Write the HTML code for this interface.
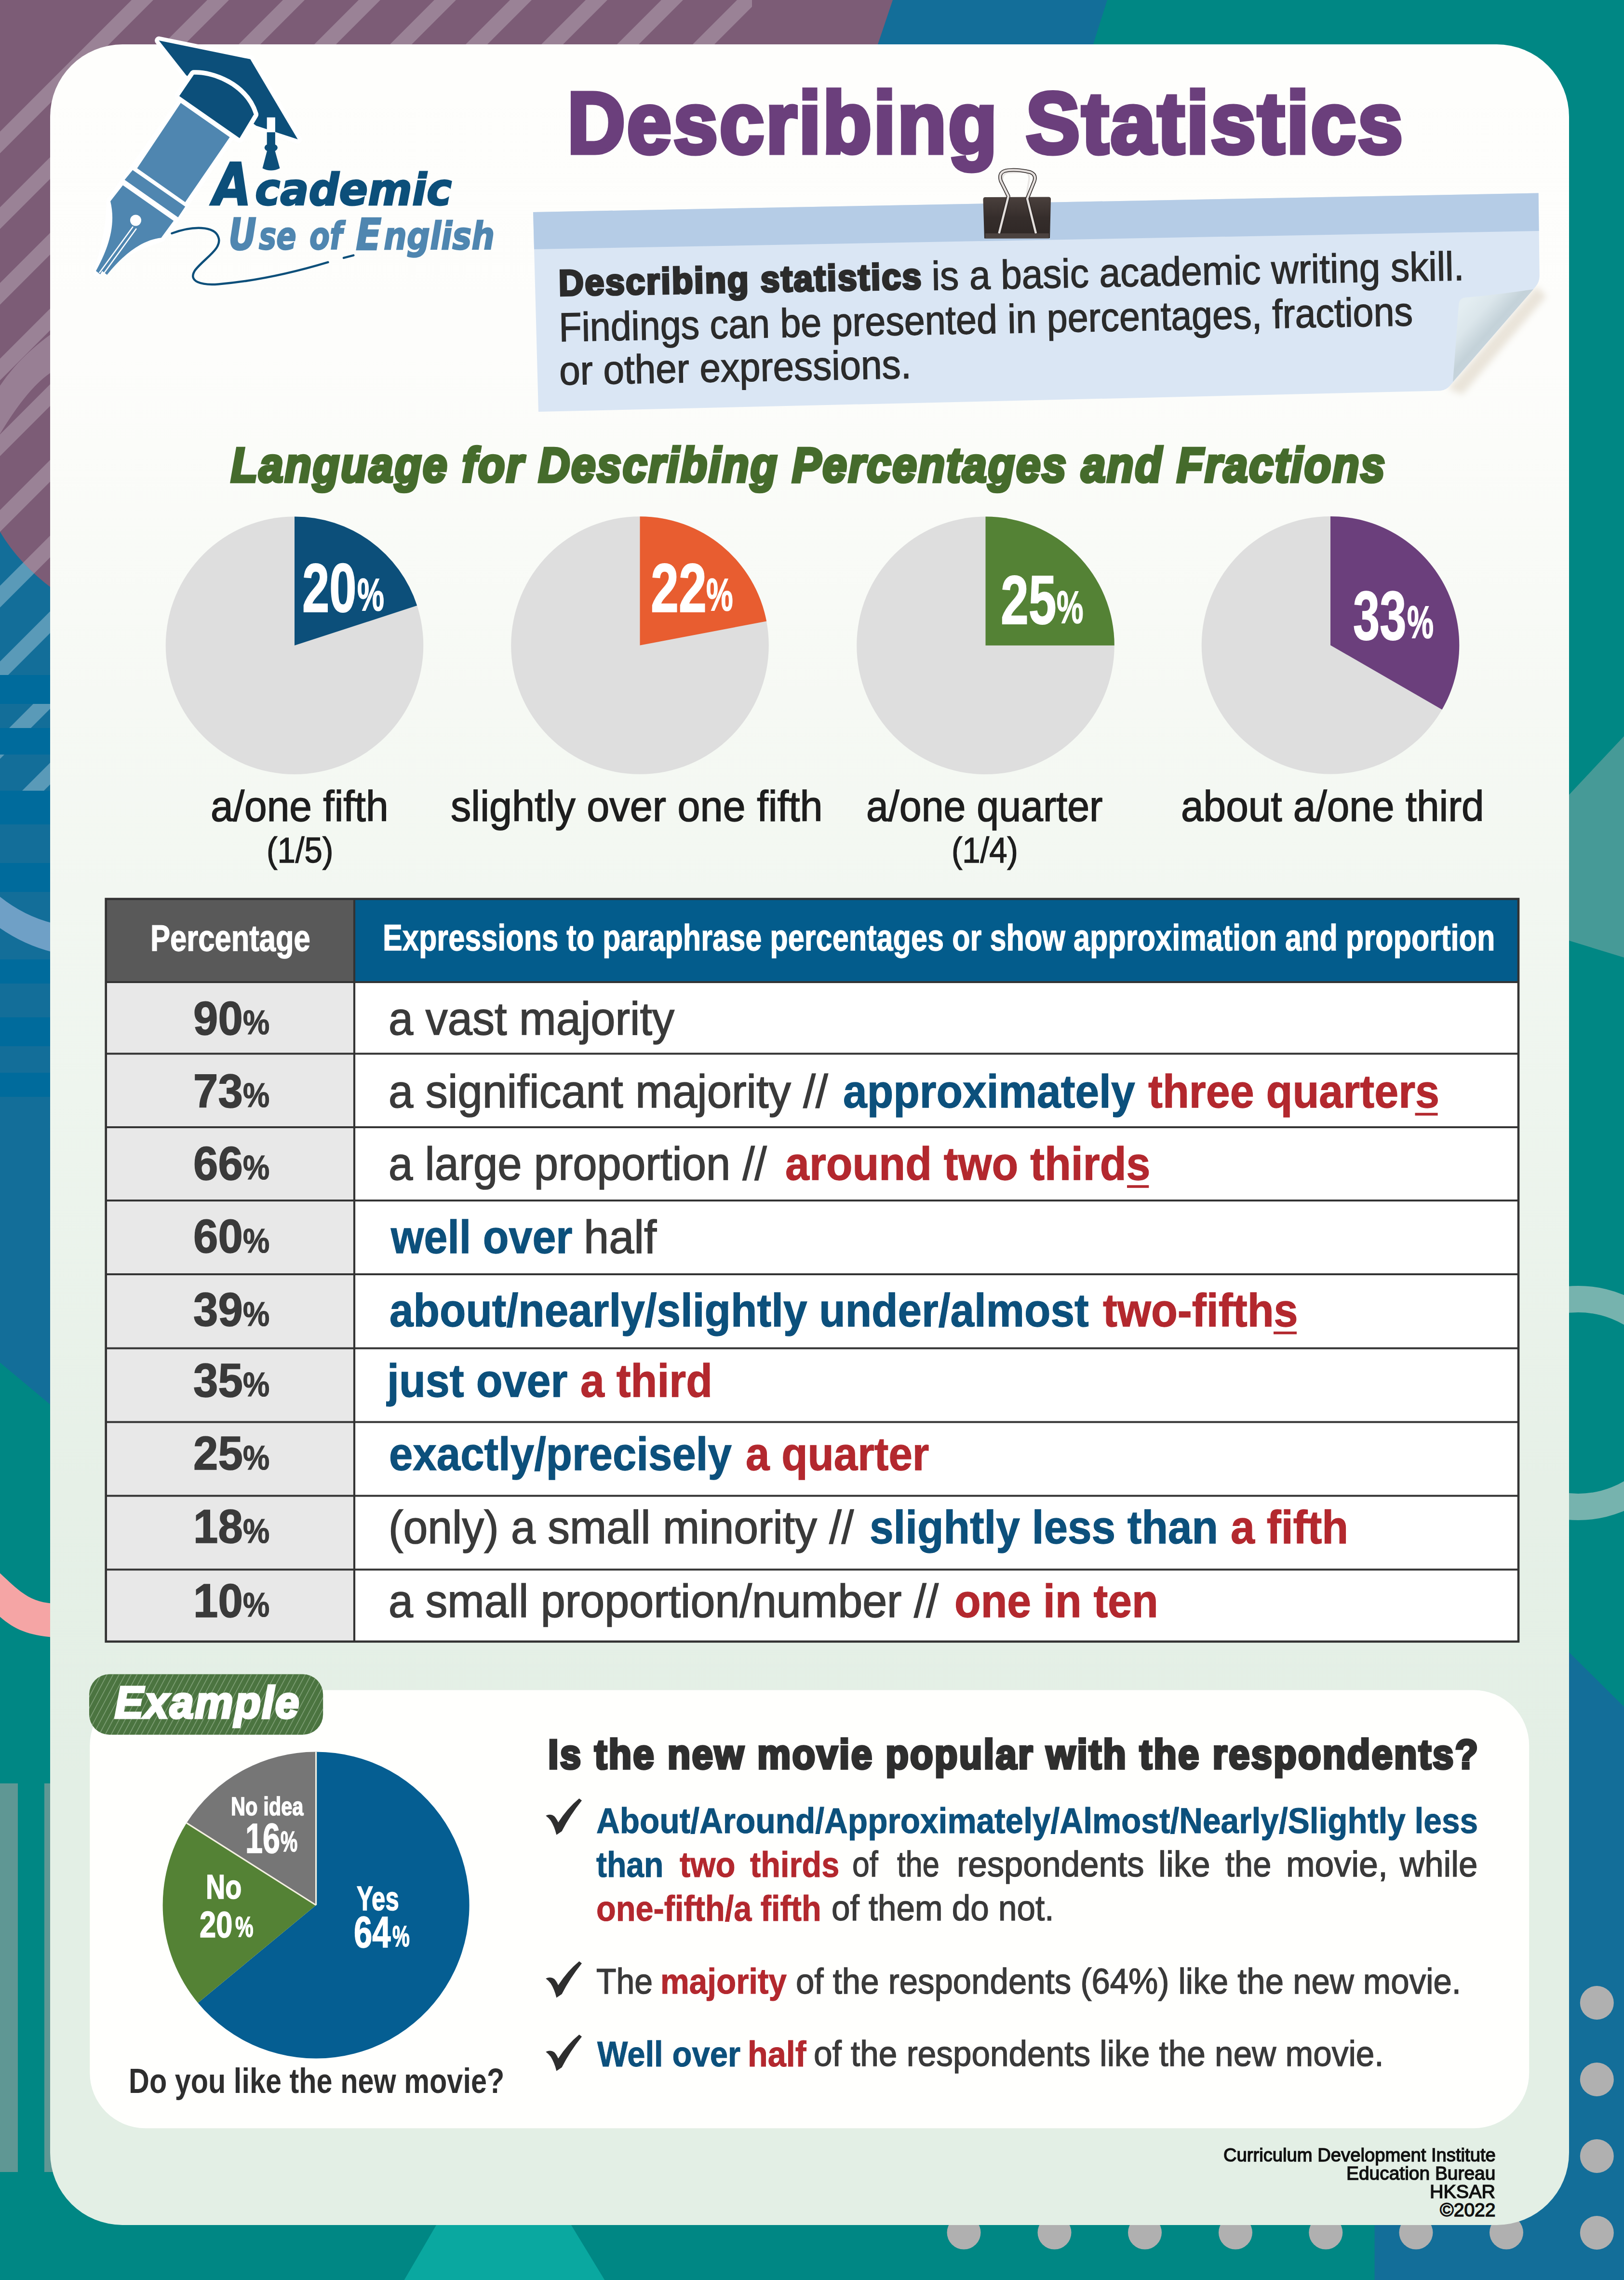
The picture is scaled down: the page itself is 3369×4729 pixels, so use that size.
<!DOCTYPE html>
<html lang="en"><head><meta charset="utf-8"><title>Describing Statistics</title>
<style>
html,body{margin:0;padding:0}
body{width:3369px;height:4729px;position:relative;overflow:hidden;background:#008784;font-family:"Liberation Sans",sans-serif}
svg{position:absolute;left:0;top:0}
.card{position:absolute;left:104px;top:92px;width:3151px;height:4523px;border-radius:150px;
 background:linear-gradient(180deg,#fefefc 0%,#fdfdfb 14%,#f6f9f4 30%,#eef5ee 48%,#e6f0e7 66%,#e3efe5 80%,#e3efe5 100%)}
.t{position:absolute;white-space:pre;line-height:1;transform-origin:0 0;letter-spacing:0}
#note{position:absolute;left:0;top:0;width:3369px;height:4729px;transform-origin:1106px 440px;transform:rotate(-1.07deg)}
</style></head><body>
<svg width="3369" height="4729" viewBox="0 0 3369 4729">
<defs>
<pattern id="stp" width="157" height="157" patternUnits="userSpaceOnUse"><path d="M116,0 L157,0 L157,4 L4,157 L0,157 L0,116 Z M157,116 L157,157 L116,157 Z M0,0 L4,0 L0,4 Z" fill="#fff" fill-opacity=".23"/></pattern>
<pattern id="stp2" width="157" height="157" patternUnits="userSpaceOnUse"><path d="M116,0 L157,0 L157,4 L4,157 L0,157 L0,116 Z M157,116 L157,157 L116,157 Z M0,0 L4,0 L0,4 Z" fill="#fff" fill-opacity=".3"/></pattern>
<clipPath id="cpurple"><path d="M0,230 L230,0 L1560,0 L1560,110 L320,110 L320,320 L110,320 L110,1222 Q40,1170 0,1103 Z"/></clipPath>
<clipPath id="cblue"><path d="M0,1103 Q40,1170 110,1222 L110,1640 L0,1640 Z"/></clipPath>
</defs>
<rect width="3369" height="4729" fill="#008784"/>
<!-- blue band -->
<path d="M1852,0 L2297,0 L2262,110 L110,2918 L0,2826 L0,0 Z" fill="#136e99"/>
<!-- purple -->
<path d="M0,0 L1852,0 L1815,110 L320,110 L320,320 L110,320 L110,1222 Q40,1170 0,1103 Z" fill="#7c5c76"/>
<g clip-path="url(#cpurple)"><rect width="1700" height="1300" fill="url(#stp)"/>
<path d="M0,900 Q60,800 110,770 L110,690 Q40,740 0,800 Z" fill="#fff" fill-opacity=".22"/></g>
<g clip-path="url(#cblue)"><rect width="1700" height="1700" fill="url(#stp2)"/></g>
<!-- subtle horizontal bands in blue -->
<g fill="#006b9c"><rect x="0" y="1400" width="110" height="60"/><rect x="0" y="1510" width="110" height="55"/><rect x="0" y="1640" width="110" height="70"/><rect x="0" y="1790" width="110" height="60"/><rect x="0" y="1990" width="110" height="50"/><rect x="0" y="2110" width="110" height="60"/><rect x="0" y="2225" width="110" height="50"/></g>
<path d="M0,1860 Q50,1900 110,1915 L110,1975 Q50,1960 0,1925 Z" fill="#6fa0c6"/>
<!-- pink -->
<path d="M0,3263 C40,3300 60,3322 110,3326 L110,3396 C60,3392 30,3380 0,3353.6 Z" fill="#f5a5a5"/>
<!-- grey-teal bars -->
<rect x="0" y="3699" width="37" height="806" fill="#5f9794"/><rect x="92" y="3699" width="30" height="806" fill="#5f9794"/>
<!-- right strip -->
<path d="M3200,1707 L3369,1527 L3369,1986 L3200,1934 Z" fill="#469a97"/>
<circle cx="3274" cy="2910" r="215.5" fill="none" stroke="#76b3ae" stroke-width="55"/>
<path d="M2851.6,4729 L2851.6,3426 L3254,3426 L3369,3540 L3369,4729 Z" fill="#136e99"/>
<!-- bottom triangle -->
<path d="M1042,4380 L838.6,4729 L1254.3,4729 Z" fill="#0aa8a0"/>
<!-- dots -->
<g fill="#b0b0b0"><circle cx="3312.8" cy="4154" r="35"/><circle cx="3312.8" cy="4313" r="35"/><circle cx="3312.8" cy="4472" r="35"/><circle cx="3312.8" cy="4631" r="35"/>
<circle cx="1999.5" cy="4630.6" r="35"/><circle cx="2187.5" cy="4630.6" r="35"/><circle cx="2375" cy="4630.6" r="35"/><circle cx="2563" cy="4630.6" r="35"/><circle cx="2750.3" cy="4630.6" r="35"/><circle cx="2937.5" cy="4630.6" r="35"/><circle cx="3125" cy="4630.6" r="35"/></g>
</svg>

<div class="card"></div>
<svg width="3369" height="4729" viewBox="0 0 3369 4729">
<defs>
<linearGradient id="flap" gradientUnits="userSpaceOnUse" x1="3030" y1="640" x2="3120" y2="720"><stop offset="0" stop-color="#e3edf1"/><stop offset=".3" stop-color="#dbe6eb"/><stop offset=".62" stop-color="#c4d2d9"/><stop offset="1" stop-color="#c9d6df"/></linearGradient>
<linearGradient id="clipg" x1="0" y1="0" x2="0" y2="1"><stop offset="0" stop-color="#4a403d"/><stop offset=".5" stop-color="#352d2b"/><stop offset="1" stop-color="#2e2725"/></linearGradient>
<filter id="blur8" x="-20%" y="-20%" width="140%" height="140%"><feGaussianBlur stdDeviation="7"/></filter>
<pattern id="exst" width="11" height="11" patternUnits="userSpaceOnUse" patternTransform="rotate(28)"><rect x="0" y="0" width="1.3" height="11" fill="#8dab85"/></pattern>
</defs>
<!-- logo -->
<g stroke-linejoin="round">
<g fill="#fff" stroke="#fff" stroke-width="17">
<path d="M329.6,84.1 L519.2,122.8 L617.7,289.1 L531.5,260.7 L386.2,156 Z"/>
<path d="M402.2,154.8 Q470,150 526.6,237.3 L497,286.6 L371.9,199.2 Z"/>
<path d="M375,213.5 L476.6,284.5 L360.2,458.1 L334.4,493.2 Q250,520 202.5,565.3 Q230,480 229,417.5 Z"/>
</g>
<!-- pen -->
<path d="M375,213.5 L476.6,284.5 L384.2,419.3 L284.5,349.1 Z" fill="#4f86b0"/>
<path d="M275.2,352.8 L384.2,428.6 L369.4,450.7 L258.6,373.1 Z" fill="#4f86b0"/>
<path d="M254.9,384.2 L360.2,458.1 L334.4,493.2 C300,497 262,520 222,570 L212,562 L208,569 L199,562 C222,520 242,470 229,417.5 Z" fill="#4f86b0"/>
<path d="M276,470 L206,566 M283,474 L214,569" stroke="#fff" stroke-width="2.6" fill="none"/>
<circle cx="281.5" cy="457" r="11.5" fill="#fff"/>
<!-- cap -->
<path d="M329.6,84.1 L519.2,122.8 L617.7,289.1 L531.5,260.7 L386.2,156 Z" fill="#0c4f7a"/>
<path d="M402.2,154.8 C440,153 508,178 526.6,237.3 L497,286.6 L371.9,199.2 Z" fill="#0c4f7a" stroke="#fff" stroke-width="19" paint-order="stroke"/>
<rect x="553.7" y="243.5" width="17.2" height="32" fill="#fff"/>
<rect x="553.7" y="274.3" width="17.2" height="30" fill="#0c4f7a"/>
<ellipse cx="562.3" cy="306.3" rx="13.5" ry="8.6" fill="#0c4f7a"/>
<path d="M554.5,311 L570,311 L580.5,349 Q562,358 544.5,349 Z" fill="#0c4f7a"/>
<!-- squiggle -->
<path d="M356.5,484 C400,468 445,468 453,492 C462,515 425,535 405,560 C388,585 420,592 452.8,589.4 C520,584 600,568 680.4,543.9 M713,534.9 L733.3,529.6" fill="none" stroke="#0c4f7a" stroke-width="4.5" stroke-linecap="round"/>
</g>
<!-- note -->
<path d="M3187,594 L3004,806 L3034,818 L3208,614 Z" fill="#cdbfa8" opacity=".4" filter="url(#blur8)"/>
<path d="M1106,440 L3191.6,400.5 L3193.7,571 Q3194,584 3186,594 L3008,800 Q3000,809 2988,810.6 L1117,854 Z" fill="#dae6f4"/>
<path d="M1106,440 L3191.6,400.5 L3192.6,479 L1108,517 Z" fill="#b5cce6"/>
<path d="M3181,600 Q3100,612 3040,617 Q3026,619 3026,634 L3014,792 Z" fill="url(#flap)"/>
<!-- binder clip -->
<path d="M2088,415 L2080,375 Q2078,360 2092,358 L2125,357 Q2136,358 2135,372 L2128,415" fill="none" stroke="#e9e6e4" stroke-width="3.5"/>
<path d="M2043,409 L2176,408.5 Q2180,409 2180,413 L2178,494 L2042,494.5 L2039.5,414 Q2039.5,409.5 2043,409 Z" fill="url(#clipg)"/>
<rect x="2044" y="484" width="132" height="10.5" fill="#4b423f"/>
<path d="M2072.5,484 L2092,407 L2076,375 Q2071,358 2086,354 Q2107,350 2137,357 Q2150,362 2146,375 L2131,412 L2149,484" fill="none" stroke="#2a2422" stroke-width="7.5" stroke-linejoin="round"/>
<path d="M2072.5,484 L2092,407 L2076,375 Q2071,358 2086,354 Q2107,350 2137,357 Q2150,362 2146,375 L2131,412 L2149,484" fill="none" stroke="#e3dedc" stroke-width="4.5" stroke-linejoin="round"/>
<!-- pies -->
<circle cx="611" cy="1338.7" r="267.3" fill="#dedede"/>
<path d="M611.0,1338.7 L611.0,1071.4 A267.3,267.3 0 0 1 865.2,1256.1 Z" fill="#0c4f7a"/>
<circle cx="1327.5" cy="1338.5" r="267.3" fill="#dedede"/>
<path d="M1327.5,1338.5 L1327.5,1071.2 A267.3,267.3 0 0 1 1590.1,1288.4 Z" fill="#e85d30"/>
<circle cx="2044.5" cy="1338.8" r="267.3" fill="#dedede"/>
<path d="M2044.5,1338.8 L2044.5,1071.5 A267.3,267.3 0 0 1 2311.8,1338.8 Z" fill="#548235"/>
<circle cx="2760" cy="1338.2" r="267.3" fill="#dedede"/>
<path d="M2760.0,1338.2 L2760.0,1070.9 A267.3,267.3 0 0 1 2991.5,1471.8 Z" fill="#6b3f7c"/>
<!-- table -->
<rect x="219.7" y="1864.5" width="515.3" height="172.5" fill="#595959"/>
<rect x="735" y="1864.5" width="2415" height="172.5" fill="#035c8c"/>
<rect x="219.7" y="2037" width="515.3" height="1367.8000000000002" fill="#e8e8e8"/>
<rect x="735" y="2037" width="2415" height="1367.8000000000002" fill="#ffffff"/>
<path d="M219.7,2037 H3150 M219.7,2185.5 H3150 M219.7,2338 H3150 M219.7,2490 H3150 M219.7,2643 H3150 M219.7,2796.5 H3150 M219.7,2949.5 H3150 M219.7,3102.5 H3150 M219.7,3255.5 H3150 M735,1864.5 V3404.8" stroke="#333" stroke-width="4.2" fill="none"/>
<rect x="219.7" y="1864.5" width="2930.3" height="1540.3000000000002" fill="none" stroke="#333" stroke-width="4.6"/>
<rect x="2935.5" y="2308.2000000000003" width="47.09999999999991" height="5.6" fill="#b3282e"/>
<rect x="2338" y="2458.2000000000003" width="45.30000000000018" height="5.6" fill="#b3282e"/>
<rect x="2642" y="2761.8" width="48" height="5.6" fill="#b3282e"/>
<!-- example -->
<rect x="186.3" y="3505.5" width="2985.9" height="908.7" rx="115" ry="115" fill="#fffffd"/>
<rect x="185" y="3472.5" width="485.2" height="125.5" rx="42" ry="42" fill="#4b7440"/>
<rect x="185" y="3472.5" width="485.2" height="125.5" rx="42" ry="42" fill="url(#exst)"/>
<path d="M655.6,3951.5 L655.6,3633.5 A318,318 0 1 1 410.6,4154.2 Z" fill="#055e92"/>
<path d="M655.6,3951.5 L410.6,4154.2 A318,318 0 0 1 387.1,3781.1 Z" fill="#548235"/>
<path d="M655.6,3951.5 L387.1,3781.1 A318,318 0 0 1 655.6,3633.5 Z" fill="#767676"/>
<path d="M655.6,3951.5 L655.6,3633.5 M655.6,3951.5 L387.1,3781.1" stroke="#f4f0e2" stroke-width="3.2" fill="none"/>
<path transform="translate(1132.2,3730.3)" d="M0,35.7 Q10,31 17.6,36.6 Q22,41 25.9,49.5 Q45,20 69.3,0 L74.8,4.2 Q50,35 33.3,68 L22.2,75.4 Q18,58 10.2,45.8 Q6,40 0,35.7 Z" fill="#2e2e2e"/>
<path transform="translate(1132.2,4068)" d="M0,35.7 Q10,31 17.6,36.6 Q22,41 25.9,49.5 Q45,20 69.3,0 L74.8,4.2 Q50,35 33.3,68 L22.2,75.4 Q18,58 10.2,45.8 Q6,40 0,35.7 Z" fill="#2e2e2e"/>
<path transform="translate(1132.2,4220)" d="M0,35.7 Q10,31 17.6,36.6 Q22,41 25.9,49.5 Q45,20 69.3,0 L74.8,4.2 Q50,35 33.3,68 L22.2,75.4 Q18,58 10.2,45.8 Q6,40 0,35.7 Z" fill="#2e2e2e"/>
</svg>
<div id="note">


<span class="t" style="left:1156.1px;top:551.3px;font-size:75.5px;color:#2b2b2b;transform:scaleX(0.9548);font-weight:700;-webkit-text-stroke:4.5px #2b2b2b;letter-spacing:2.5px;">Describing statistics</span>
<span class="t" style="left:1929.9px;top:545.6px;font-size:84px;color:#2b2b2b;transform:scaleX(0.9317);-webkit-text-stroke:1.5px #2b2b2b;">is a basic academic writing skill.</span>
<span class="t" style="left:1154.7px;top:637.9px;font-size:84px;color:#2b2b2b;transform:scaleX(0.9187);-webkit-text-stroke:1.5px #2b2b2b;">Findings can be presented in percentages, fractions</span>
<span class="t" style="left:1154.2px;top:727.6px;font-size:84px;color:#2b2b2b;transform:scaleX(0.9311);-webkit-text-stroke:1.5px #2b2b2b;">or other expressions.</span>
</div>
<span class="t" style="left:1177.1px;top:165.1px;font-size:180px;color:#6b3f7c;transform:scaleX(0.9225);font-weight:700;-webkit-text-stroke:9px #6b3f7c;letter-spacing:4px;">Describing</span>
<span class="t" style="left:2128.3px;top:165.1px;font-size:180px;color:#6b3f7c;transform:scaleX(0.9352);font-weight:700;-webkit-text-stroke:9px #6b3f7c;letter-spacing:4px;">Statistics</span>
<span class="t" style="left:479.0px;top:913.7px;font-size:100px;color:#456b2c;transform:scaleX(0.9027);font-weight:700;font-style:italic;-webkit-text-stroke:6.5px #456b2c;letter-spacing:3.5px;">Language for Describing Percentages and Fractions</span>
<span class="t" style="left:626.9px;top:1147.8px;font-size:143.5px;color:#ffffff;transform:scaleX(0.7048);font-weight:700;-webkit-text-stroke:2px #ffffff;">20</span>
<span class="t" style="left:741.2px;top:1186.3px;font-size:95px;color:#ffffff;transform:scaleX(0.6626);font-weight:700;-webkit-text-stroke:1.5px #ffffff;">%</span>
<span class="t" style="left:1349.5px;top:1147.8px;font-size:143.5px;color:#ffffff;transform:scaleX(0.7257);font-weight:700;-webkit-text-stroke:2px #ffffff;">22</span>
<span class="t" style="left:1464.7px;top:1186.3px;font-size:95px;color:#ffffff;transform:scaleX(0.6589);font-weight:700;-webkit-text-stroke:1.5px #ffffff;">%</span>
<span class="t" style="left:2076.4px;top:1173.0px;font-size:143.5px;color:#ffffff;transform:scaleX(0.7243);font-weight:700;-webkit-text-stroke:2px #ffffff;">25</span>
<span class="t" style="left:2191.6px;top:1211.8px;font-size:95px;color:#ffffff;transform:scaleX(0.6577);font-weight:700;-webkit-text-stroke:1.5px #ffffff;">%</span>
<span class="t" style="left:2806.8px;top:1205.0px;font-size:143.5px;color:#ffffff;transform:scaleX(0.6918);font-weight:700;-webkit-text-stroke:2px #ffffff;">33</span>
<span class="t" style="left:2919.2px;top:1243.1px;font-size:95px;color:#ffffff;transform:scaleX(0.6528);font-weight:700;-webkit-text-stroke:1.5px #ffffff;">%</span>
<span class="t" style="left:437.0px;top:1627.8px;font-size:89px;color:#1e1e1e;transform:scaleX(0.9430);-webkit-text-stroke:1.6px #1e1e1e;">a/one fifth</span>
<span class="t" style="left:552.5px;top:1725.8px;font-size:75px;color:#1e1e1e;transform:scaleX(0.8968);-webkit-text-stroke:1.4px #1e1e1e;">(1/5)</span>
<span class="t" style="left:935.2px;top:1627.7px;font-size:89px;color:#1e1e1e;transform:scaleX(0.9511);-webkit-text-stroke:1.6px #1e1e1e;">slightly over one fifth</span>
<span class="t" style="left:1796.7px;top:1627.7px;font-size:89px;color:#1e1e1e;transform:scaleX(0.9266);-webkit-text-stroke:1.6px #1e1e1e;">a/one quarter</span>
<span class="t" style="left:1974.0px;top:1725.8px;font-size:75px;color:#1e1e1e;transform:scaleX(0.8941);-webkit-text-stroke:1.4px #1e1e1e;">(1/4)</span>
<span class="t" style="left:2449.6px;top:1627.7px;font-size:89px;color:#1e1e1e;transform:scaleX(0.9411);-webkit-text-stroke:1.6px #1e1e1e;">about a/one third</span>
<span class="t" style="left:311.5px;top:1908.0px;font-size:76.5px;color:#ffffff;transform:scaleX(0.8044);font-weight:700;-webkit-text-stroke:1.5px #ffffff;">Percentage</span>
<span class="t" style="left:793.5px;top:1907.9px;font-size:75.5px;color:#ffffff;transform:scaleX(0.8112);font-weight:700;-webkit-text-stroke:1.3px #ffffff;">Expressions to paraphrase percentages or show approximation and proportion</span>
<span class="t" style="left:401.4px;top:2062.8px;font-size:98.5px;color:#3a3a3a;transform:scaleX(0.9379);font-weight:700;-webkit-text-stroke:1.6px #3a3a3a;">90</span>
<span class="t" style="left:504.0px;top:2086.1px;font-size:70px;color:#3a3a3a;transform:scaleX(0.8873);font-weight:700;-webkit-text-stroke:1.2px #3a3a3a;">%</span>
<span class="t" style="left:401.4px;top:2213.8px;font-size:98.5px;color:#3a3a3a;transform:scaleX(0.9379);font-weight:700;-webkit-text-stroke:1.6px #3a3a3a;">73</span>
<span class="t" style="left:504.0px;top:2237.1px;font-size:70px;color:#3a3a3a;transform:scaleX(0.8873);font-weight:700;-webkit-text-stroke:1.2px #3a3a3a;">%</span>
<span class="t" style="left:401.4px;top:2363.8px;font-size:98.5px;color:#3a3a3a;transform:scaleX(0.9379);font-weight:700;-webkit-text-stroke:1.6px #3a3a3a;">66</span>
<span class="t" style="left:504.0px;top:2387.1px;font-size:70px;color:#3a3a3a;transform:scaleX(0.8873);font-weight:700;-webkit-text-stroke:1.2px #3a3a3a;">%</span>
<span class="t" style="left:401.4px;top:2515.3px;font-size:98.5px;color:#3a3a3a;transform:scaleX(0.9379);font-weight:700;-webkit-text-stroke:1.6px #3a3a3a;">60</span>
<span class="t" style="left:504.0px;top:2538.6px;font-size:70px;color:#3a3a3a;transform:scaleX(0.8873);font-weight:700;-webkit-text-stroke:1.2px #3a3a3a;">%</span>
<span class="t" style="left:401.4px;top:2667.4px;font-size:98.5px;color:#3a3a3a;transform:scaleX(0.9379);font-weight:700;-webkit-text-stroke:1.6px #3a3a3a;">39</span>
<span class="t" style="left:504.0px;top:2690.7px;font-size:70px;color:#3a3a3a;transform:scaleX(0.8873);font-weight:700;-webkit-text-stroke:1.2px #3a3a3a;">%</span>
<span class="t" style="left:401.4px;top:2813.8px;font-size:98.5px;color:#3a3a3a;transform:scaleX(0.9379);font-weight:700;-webkit-text-stroke:1.6px #3a3a3a;">35</span>
<span class="t" style="left:504.0px;top:2837.1px;font-size:70px;color:#3a3a3a;transform:scaleX(0.8873);font-weight:700;-webkit-text-stroke:1.2px #3a3a3a;">%</span>
<span class="t" style="left:401.4px;top:2965.3px;font-size:98.5px;color:#3a3a3a;transform:scaleX(0.9379);font-weight:700;-webkit-text-stroke:1.6px #3a3a3a;">25</span>
<span class="t" style="left:504.0px;top:2988.6px;font-size:70px;color:#3a3a3a;transform:scaleX(0.8873);font-weight:700;-webkit-text-stroke:1.2px #3a3a3a;">%</span>
<span class="t" style="left:401.4px;top:3117.4px;font-size:98.5px;color:#3a3a3a;transform:scaleX(0.9379);font-weight:700;-webkit-text-stroke:1.6px #3a3a3a;">18</span>
<span class="t" style="left:504.0px;top:3140.7px;font-size:70px;color:#3a3a3a;transform:scaleX(0.8873);font-weight:700;-webkit-text-stroke:1.2px #3a3a3a;">%</span>
<span class="t" style="left:401.4px;top:3270.5px;font-size:98.5px;color:#3a3a3a;transform:scaleX(0.9379);font-weight:700;-webkit-text-stroke:1.6px #3a3a3a;">10</span>
<span class="t" style="left:504.0px;top:3293.8px;font-size:70px;color:#3a3a3a;transform:scaleX(0.8873);font-weight:700;-webkit-text-stroke:1.2px #3a3a3a;">%</span>
<span class="t" style="left:806.3px;top:2064.0px;font-size:97px;color:#3a3a3a;transform:scaleX(0.9485);-webkit-text-stroke:1.7px #3a3a3a;">a vast majority</span>
<span class="t" style="left:806.3px;top:2215.0px;font-size:97px;color:#3a3a3a;transform:scaleX(0.9499);-webkit-text-stroke:1.7px #3a3a3a;">a significant majority //</span>
<span class="t" style="left:1749.1px;top:2215.2px;font-size:97px;color:#0c507c;transform:scaleX(0.9208);font-weight:700;-webkit-text-stroke:1.3px #0c507c;">approximately</span>
<span class="t" style="left:2381.6px;top:2215.2px;font-size:97px;color:#b3282e;transform:scaleX(0.9261);font-weight:700;-webkit-text-stroke:1.3px #b3282e;">three quarters</span>
<span class="t" style="left:806.4px;top:2365.0px;font-size:97px;color:#3a3a3a;transform:scaleX(0.9329);-webkit-text-stroke:1.7px #3a3a3a;">a large proportion //</span>
<span class="t" style="left:1629.1px;top:2365.2px;font-size:97px;color:#b3282e;transform:scaleX(0.9246);font-weight:700;-webkit-text-stroke:1.3px #b3282e;">around two thirds</span>
<span class="t" style="left:810.8px;top:2516.7px;font-size:97px;color:#0c507c;transform:scaleX(0.9071);font-weight:700;-webkit-text-stroke:1.3px #0c507c;">well over</span>
<span class="t" style="left:1211.0px;top:2516.5px;font-size:97px;color:#3a3a3a;transform:scaleX(0.9664);-webkit-text-stroke:1.7px #3a3a3a;">half</span>
<span class="t" style="left:808.1px;top:2668.8px;font-size:97px;color:#0c507c;transform:scaleX(0.9186);font-weight:700;-webkit-text-stroke:1.3px #0c507c;">about/nearly/slightly under/almost</span>
<span class="t" style="left:2288.4px;top:2668.8px;font-size:97px;color:#b3282e;transform:scaleX(0.9272);font-weight:700;-webkit-text-stroke:1.3px #b3282e;">two-fifths</span>
<span class="t" style="left:803.2px;top:2815.2px;font-size:97px;color:#0c507c;transform:scaleX(0.9264);font-weight:700;-webkit-text-stroke:1.3px #0c507c;">just over</span>
<span class="t" style="left:1203.7px;top:2815.2px;font-size:97px;color:#b3282e;transform:scaleX(0.9242);font-weight:700;-webkit-text-stroke:1.3px #b3282e;">a third</span>
<span class="t" style="left:807.4px;top:2966.7px;font-size:97px;color:#0c507c;transform:scaleX(0.9154);font-weight:700;-webkit-text-stroke:1.3px #0c507c;">exactly/precisely</span>
<span class="t" style="left:1547.3px;top:2966.7px;font-size:97px;color:#b3282e;transform:scaleX(0.9165);font-weight:700;-webkit-text-stroke:1.3px #b3282e;">a quarter</span>
<span class="t" style="left:806.1px;top:3118.6px;font-size:97px;color:#3a3a3a;transform:scaleX(0.9424);-webkit-text-stroke:1.7px #3a3a3a;">(only) a small minority //</span>
<span class="t" style="left:1804.3px;top:3118.8px;font-size:97px;color:#0c507c;transform:scaleX(0.9185);font-weight:700;-webkit-text-stroke:1.3px #0c507c;">slightly less than</span>
<span class="t" style="left:2553.0px;top:3118.8px;font-size:97px;color:#b3282e;transform:scaleX(0.9246);font-weight:700;-webkit-text-stroke:1.3px #b3282e;">a fifth</span>
<span class="t" style="left:806.3px;top:3271.7px;font-size:97px;color:#3a3a3a;transform:scaleX(0.9448);-webkit-text-stroke:1.7px #3a3a3a;">a small proportion/number //</span>
<span class="t" style="left:1980.4px;top:3271.9px;font-size:97px;color:#b3282e;transform:scaleX(0.9229);font-weight:700;-webkit-text-stroke:1.3px #b3282e;">one in ten</span>
<span class="t" style="left:238.2px;top:3485.2px;font-size:92px;color:#ffffff;transform:scaleX(0.9647);font-weight:700;font-style:italic;-webkit-text-stroke:5px #ffffff;letter-spacing:3px;">Example</span>
<span class="t" style="left:479.0px;top:3718.8px;font-size:54px;color:#ffffff;transform:scaleX(0.7718);font-weight:700;-webkit-text-stroke:1.6px #ffffff;">No idea</span>
<span class="t" style="left:509.3px;top:3769.4px;font-size:87px;color:#ffffff;transform:scaleX(0.7441);font-weight:700;-webkit-text-stroke:1.6px #ffffff;">16</span>
<span class="t" style="left:582.2px;top:3790.4px;font-size:60px;color:#ffffff;transform:scaleX(0.6597);font-weight:700;-webkit-text-stroke:1.6px #ffffff;">%</span>
<span class="t" style="left:426.7px;top:3879.0px;font-size:70.5px;color:#ffffff;transform:scaleX(0.7909);font-weight:700;-webkit-text-stroke:1.6px #ffffff;">No</span>
<span class="t" style="left:414.4px;top:3954.3px;font-size:76px;color:#ffffff;transform:scaleX(0.8086);font-weight:700;-webkit-text-stroke:1.6px #ffffff;">20</span>
<span class="t" style="left:487.6px;top:3967.5px;font-size:59px;color:#ffffff;transform:scaleX(0.7171);font-weight:700;-webkit-text-stroke:1.6px #ffffff;">%</span>
<span class="t" style="left:740.1px;top:3903.6px;font-size:69.5px;color:#ffffff;transform:scaleX(0.7319);font-weight:700;-webkit-text-stroke:1.6px #ffffff;">Yes</span>
<span class="t" style="left:733.9px;top:3963.1px;font-size:90px;color:#ffffff;transform:scaleX(0.7643);font-weight:700;-webkit-text-stroke:1.6px #ffffff;">64</span>
<span class="t" style="left:814.0px;top:3985.8px;font-size:61px;color:#ffffff;transform:scaleX(0.6604);font-weight:700;-webkit-text-stroke:1.6px #ffffff;">%</span>
<span class="t" style="left:267.4px;top:4279.5px;font-size:72.5px;color:#2e2e2e;transform:scaleX(0.8196);font-weight:700;">Do you like the new movie?</span>
<span class="t" style="left:1137.1px;top:3595.7px;font-size:85.5px;color:#2e2e2e;transform:scaleX(0.9123);font-weight:700;-webkit-text-stroke:5.5px #2e2e2e;letter-spacing:3.5px;">Is the new movie popular with the respondents?</span>
<span class="t" style="left:1236.5px;top:3738.6px;font-size:74.8px;color:#0c507c;transform:scaleX(0.9037);font-weight:700;-webkit-text-stroke:1.0px #0c507c;">About/Around/Approximately/Almost/Nearly/Slightly less</span>
<span class="t" style="left:1237.3px;top:3830.2px;font-size:74.8px;color:#0c507c;transform:scaleX(0.8834);font-weight:700;-webkit-text-stroke:1.0px #0c507c;">than</span>
<span class="t" style="left:1409.7px;top:3830.2px;font-size:74.8px;color:#b3282e;transform:scaleX(0.8970);font-weight:700;-webkit-text-stroke:1.0px #b3282e;">two</span>
<span class="t" style="left:1556.0px;top:3830.2px;font-size:74.8px;color:#b3282e;transform:scaleX(0.8915);font-weight:700;-webkit-text-stroke:1.0px #b3282e;">thirds</span>
<span class="t" style="left:1768.1px;top:3830.4px;font-size:74.3px;color:#3a3a3a;transform:scaleX(0.8665);-webkit-text-stroke:1.5px #3a3a3a;">of</span>
<span class="t" style="left:1860.9px;top:3830.4px;font-size:74.3px;color:#3a3a3a;transform:scaleX(0.8496);-webkit-text-stroke:1.5px #3a3a3a;">the</span>
<span class="t" style="left:1985.1px;top:3830.4px;font-size:74.3px;color:#3a3a3a;transform:scaleX(0.9503);-webkit-text-stroke:1.5px #3a3a3a;">respondents</span>
<span class="t" style="left:2403.0px;top:3830.4px;font-size:74.3px;color:#3a3a3a;transform:scaleX(0.9653);-webkit-text-stroke:1.5px #3a3a3a;">like</span>
<span class="t" style="left:2542.4px;top:3830.4px;font-size:74.3px;color:#3a3a3a;transform:scaleX(0.9225);-webkit-text-stroke:1.5px #3a3a3a;">the</span>
<span class="t" style="left:2667.5px;top:3830.4px;font-size:74.3px;color:#3a3a3a;transform:scaleX(0.9633);-webkit-text-stroke:1.5px #3a3a3a;">movie,</span>
<span class="t" style="left:2903.9px;top:3830.4px;font-size:74.3px;color:#3a3a3a;transform:scaleX(0.9529);-webkit-text-stroke:1.5px #3a3a3a;">while</span>
<span class="t" style="left:1237.2px;top:3920.5px;font-size:74.8px;color:#b3282e;transform:scaleX(0.8916);font-weight:700;-webkit-text-stroke:1.0px #b3282e;">one-fifth/a fifth</span>
<span class="t" style="left:1725.4px;top:3920.7px;font-size:74.3px;color:#3a3a3a;transform:scaleX(0.9309);-webkit-text-stroke:1.5px #3a3a3a;">of them do not.</span>
<span class="t" style="left:1236.7px;top:4072.6px;font-size:74.3px;color:#3a3a3a;transform:scaleX(0.9152);-webkit-text-stroke:1.5px #3a3a3a;">The</span>
<span class="t" style="left:1369.8px;top:4072.4px;font-size:74.8px;color:#b3282e;transform:scaleX(0.9002);font-weight:700;-webkit-text-stroke:1.0px #b3282e;">majority</span>
<span class="t" style="left:1650.5px;top:4072.6px;font-size:74.3px;color:#3a3a3a;transform:scaleX(0.9282);-webkit-text-stroke:1.5px #3a3a3a;">of the respondents (64%) like the new movie.</span>
<span class="t" style="left:1238.9px;top:4222.7px;font-size:74.8px;color:#0c507c;transform:scaleX(0.8974);font-weight:700;-webkit-text-stroke:1.0px #0c507c;">Well over</span>
<span class="t" style="left:1550.9px;top:4222.7px;font-size:74.8px;color:#b3282e;transform:scaleX(0.9149);font-weight:700;-webkit-text-stroke:1.0px #b3282e;">half</span>
<span class="t" style="left:1688.4px;top:4222.9px;font-size:74.3px;color:#3a3a3a;transform:scaleX(0.9327);-webkit-text-stroke:1.5px #3a3a3a;">of the respondents like the new movie.</span>
<span class="t" style="left:2537.8px;top:4450.2px;font-size:39px;color:#111;transform:scaleX(0.9795);-webkit-text-stroke:1.5px #111;">Curriculum Development Institute</span>
<span class="t" style="left:2793.2px;top:4488.2px;font-size:39px;color:#111;transform:scaleX(0.9978);-webkit-text-stroke:1.5px #111;">Education Bureau</span>
<span class="t" style="left:2966.0px;top:4526.2px;font-size:39px;color:#111;transform:scaleX(1.0121);-webkit-text-stroke:1.5px #111;">HKSAR</span>
<span class="t" style="left:2987.0px;top:4563.5px;font-size:39px;color:#111;transform:scaleX(1.0000);-webkit-text-stroke:1.5px #111;">©2022</span>
<span class="t" style="left:441.6px;top:322.5px;font-size:121px;color:#0c4f7a;transform:scaleX(0.8463);font-weight:700;font-style:italic;-webkit-text-stroke:3px #0c4f7a;font-family:'DejaVu Sans',sans-serif;">A</span>
<span class="t" style="left:529.1px;top:347.9px;font-size:91px;color:#0c4f7a;transform:scaleX(0.9670);font-weight:700;font-style:italic;-webkit-text-stroke:3px #0c4f7a;font-family:'DejaVu Sans',sans-serif;">cademic</span>
<span class="t" style="left:474.4px;top:442.1px;font-size:90px;color:#4f86b0;transform:scaleX(0.7927);font-weight:700;font-style:italic;-webkit-text-stroke:2.5px #4f86b0;font-family:'DejaVu Sans',sans-serif;">U</span>
<span class="t" style="left:537.4px;top:451.4px;font-size:79px;color:#4f86b0;transform:scaleX(0.7720);font-weight:700;font-style:italic;-webkit-text-stroke:2.5px #4f86b0;font-family:'DejaVu Sans',sans-serif;">se</span>
<span class="t" style="left:642.4px;top:451.4px;font-size:79px;color:#4f86b0;transform:scaleX(0.7742);font-weight:700;font-style:italic;-webkit-text-stroke:2.5px #4f86b0;font-family:'DejaVu Sans',sans-serif;">of</span>
<span class="t" style="left:738.2px;top:442.1px;font-size:90px;color:#4f86b0;transform:scaleX(0.8704);font-weight:700;font-style:italic;-webkit-text-stroke:2.5px #4f86b0;font-family:'DejaVu Sans',sans-serif;">E</span>
<span class="t" style="left:795.7px;top:451.4px;font-size:79px;color:#4f86b0;transform:scaleX(0.8515);font-weight:700;font-style:italic;-webkit-text-stroke:2.5px #4f86b0;font-family:'DejaVu Sans',sans-serif;">nglish</span>
</body></html>
